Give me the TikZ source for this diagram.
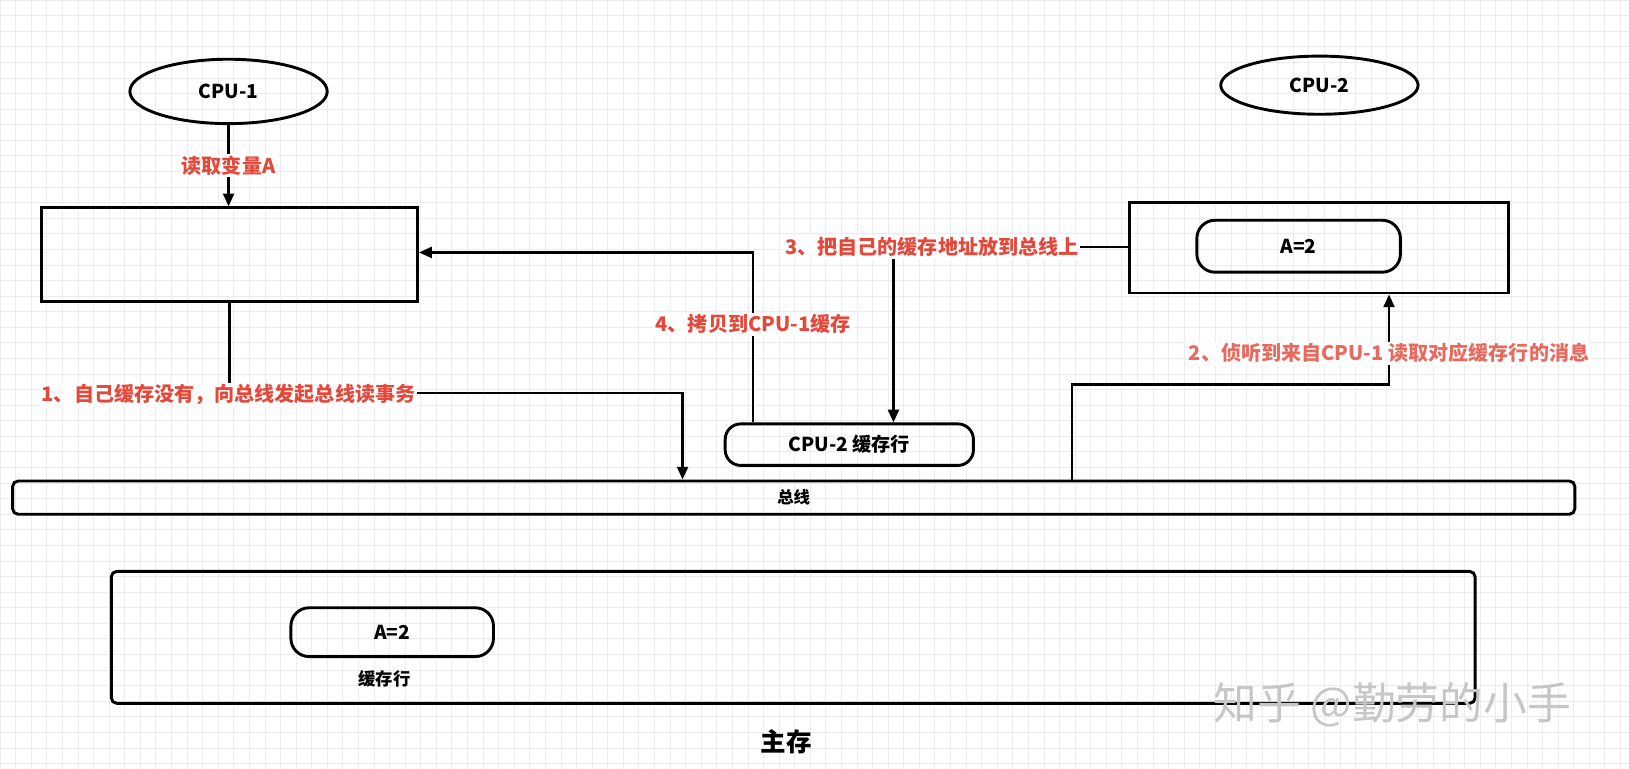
\documentclass[tikz,border=0pt]{standalone}
\usepackage{fontspec}
\setmainfont{Noto Sans CJK SC}
\usetikzlibrary{shapes.geometric,arrows.meta}
\definecolor{lab}{HTML}{E5483A}
\definecolor{lab2}{HTML}{E86A5E}
\begin{document}
\begin{tikzpicture}[x=0.02cm,y=-0.02cm,
  box/.style={draw,line width=1.6pt,inner sep=0},
  rbox/.style={draw,line width=1.6pt,rounded corners=0.35cm,inner sep=0},
  lbl/.style={font=\bfseries\fontsize{11}{13}\selectfont,text=lab,fill=white,inner sep=1pt},
  txt/.style={font=\bfseries\fontsize{10.5}{12}\selectfont},
  conn/.style={line width=1.3pt,-{Triangle[length=7pt,width=6pt]}}]
\useasboundingbox (0,0) rectangle (1568,740);
\draw[gray!15,line width=0.4pt] (0,0) grid[step=0.3cm] (1568,740);
% nodes
\node[box,ellipse,minimum width=3.8cm,minimum height=1.24cm,txt] (cpu1) at (220,88) {CPU-1};
\node[box,ellipse,minimum width=3.8cm,minimum height=1.12cm,txt] (cpu2) at (1270,82) {CPU-2};
\node[box,minimum width=7.24cm,minimum height=1.8cm] (c1) at (221,245) {};
\node[box,minimum width=7.3cm,minimum height=1.74cm] (c2) at (1269.5,238.5) {};
\node[rbox,minimum width=3.92cm,minimum height=1.0cm,txt] (a2) at (1250,237) {A=2};
\node[rbox,minimum width=4.78cm,minimum height=0.8cm,txt,rounded corners=0.3cm] (l2) at (817.5,428) {CPU-2 缓存行};
\node[draw,line width=1.6pt,rounded corners=3pt,minimum width=30.08cm,minimum height=0.64cm,txt,font=\bfseries\fontsize{9}{11}\selectfont] (bus) at (764,479) {总线};
\node[draw,line width=1.6pt,rounded corners=3pt,minimum width=26.26cm,minimum height=2.54cm] (mem) at (763.5,613.5) {};
\node[rbox,minimum width=3.9cm,minimum height=0.94cm,txt] (am) at (377.5,608.5) {A=2};
\node[txt,font=\bfseries\fontsize{9.5}{11}\selectfont] (cl) at (370,653) {缓存行};
\node[font=\bfseries\fontsize{14}{16}\selectfont] (main) at (757,714) {主存};
\node[text=gray!45,font=\fontsize{24}{28}\selectfont] (wm) at (1340,678) {知乎 @勤劳的小手};
% connectors
\draw[conn] (cpu1) -- (c1.north -| cpu1) node[lbl,midway] {读取变量A};
\coordinate (b1) at (657,378);
\draw[conn] (c1.south) |- (b1) -- (bus.north -| b1);
\node[lbl] at (220,380) {1、自己缓存没有，向总线发起总线读事务};
\coordinate (b2) at (1032,370);
\coordinate (b3) at (1337,370);
\draw[conn] (bus.north -| b2) -- (b2) -- (b3) -- (c2.south -| b3);
\node[lbl,text=lab2] at (1337,340) {2、侦听到来自CPU-1 读取对应缓存行的消息};
\coordinate (b4) at (860,238);
\draw[conn] (c2.west |- b4) -- (b4) -- (l2.north -| b4);
\node[lbl] at (897,238) {3、把自己的缓存地址放到总线上};
\coordinate (b5) at (725,243);
\draw[conn] (l2.north -| b5) -- (b5) -- (c1.east |- b5);
\node[lbl] at (725,312) {4、拷贝到CPU-1缓存};
\end{tikzpicture}
\end{document}
